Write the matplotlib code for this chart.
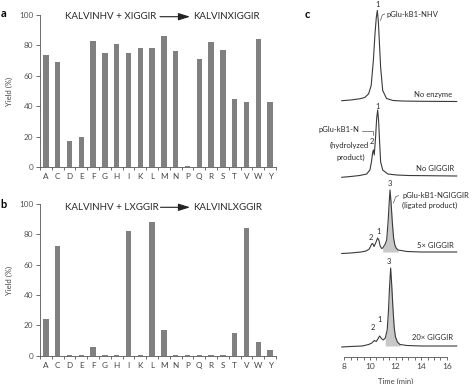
import matplotlib
matplotlib.use('Agg')
import matplotlib.pyplot as plt
from matplotlib.patches import ArrowStyle
import numpy as np

plt.rcParams['font.family'] = ['Lato', 'DejaVu Sans']

# ---------------- data ----------------
categories = ['A', 'C', 'D', 'E', 'F', 'G', 'H', 'I', 'K', 'L',
              'M', 'N', 'P', 'Q', 'R', 'S', 'T', 'V', 'W', 'Y']
yield_a = [74, 69, 17, 20, 83, 75, 81, 75, 78, 78,
           86, 76, 0.7, 71, 82, 77, 45, 43, 84, 43]
yield_b = [24, 72, 0.7, 0.7, 6, 0.7, 0.7, 82, 0.7, 88,
           17, 0.7, 0.7, 0.7, 0.7, 0.7, 15, 84, 9, 4]
yield_ticks = [0, 20, 40, 60, 80, 100]

time_ticks = [8, 10, 12, 14, 16]
trace_names = ['No enzyme', 'No GIGGIR', '5\u00d7 GIGGIR', '20\u00d7 GIGGIR']

# chromatogram traces: time (min) and signal above baseline (a.u.)
t_no_enzyme = [7.8, 8.5, 9.2, 9.6, 9.9, 10.1, 10.27, 10.4, 10.5, 10.58,
               10.66, 10.73, 10.84, 11.0, 11.3, 11.8, 12.5, 14.0, 16.78]
s_no_enzyme = [0.8, 1.5, 2.7, 4, 7.7, 16, 41, 68, 84, 91,
               80, 62, 34, 11, 3, 1, 0.5, 0.2, 0]

t_no_giggir = [7.8, 8.5, 9.2, 9.75, 10.0, 10.12, 10.22, 10.28, 10.34, 10.45,
               10.53, 10.61, 10.68, 10.75, 10.84, 11.0, 11.4, 12.1, 13.0, 16.78]
s_no_giggir = [-1.3, -0.5, 0.5, 2, 6, 14, 24, 26, 21, 40,
               58, 66, 55, 36, 14, 6, 2, 1, 0.5, 0]

t_5x = [7.8, 8.5, 9.3, 9.7, 9.95, 10.14, 10.22, 10.32, 10.45, 10.6,
        10.7, 10.8, 10.92, 11.0, 11.2, 11.31, 11.42, 11.5, 11.57, 11.65,
        11.75, 11.85, 11.95, 12.05, 12.2, 12.9, 14.0, 16.78]
s_5x = [-1.5, -1, 0, 1, 3, 8, 8.5, 5.5, 9, 14,
        12, 6, 3.5, 4, 8, 12, 30, 48, 62, 50,
        30, 14, 7, 4, 2, 0.5, 0, 0]

t_20x = [7.8, 8.5, 9.4, 9.9, 10.15, 10.35, 10.5, 10.62, 10.76, 10.9,
         11.05, 11.2, 11.35, 11.45, 11.53, 11.62, 11.7, 11.8, 11.9, 12.0,
         12.15, 12.35, 12.9, 14.0, 16.78]
s_20x = [-1, -0.5, 0, 1.5, 3, 5.5, 4.5, 7, 10, 7.5,
         6, 8, 16, 35, 58, 78, 62, 38, 18, 9,
         4, 1.5, 0.5, 0, 0]

shade_5x = (11.0, 12.2)
shade_20x = (11.2, 12.35)

# ---------------- layout ----------------
W, H = 474, 384
fig = plt.figure(figsize=(W / 100, H / 100), dpi=100)
renderer = fig.canvas.get_renderer()

def rect(x0, y0, x1, y1):
    return [x0 / W, 1 - y1 / H, (x1 - x0) / W, (y1 - y0) / H]

BAR = '#808080'
SPINE = '#555555'
TICKC = '#555555'
TXT = '#2a2a2a'
LINE = '#3a3a3a'
FILL = '#c8c8c8'


def bar_panel(r, values):
    ax = fig.add_axes(r)
    x = np.arange(len(categories))
    ax.bar(x, values, width=0.47, color=BAR, zorder=2)
    ax.set_xlim(-0.5, len(categories) - 0.5)
    ax.set_ylim(0, 100)
    ax.set_yticks(yield_ticks)
    ax.set_xticks(x)
    ax.set_xticklabels(categories)
    ax.set_xticks(np.arange(-0.5, len(categories)), minor=True)
    ax.tick_params(axis='x', which='major', length=0, pad=4.5,
                   labelsize=5.9, labelcolor='#444444')
    ax.tick_params(axis='x', which='minor', length=2.5, width=0.6,
                   color=SPINE, direction='out')
    ax.tick_params(axis='y', length=2.8, width=0.6, color=SPINE, pad=2,
                   labelsize=5.9, labelcolor=TICKC)
    for s in ['top', 'right']:
        ax.spines[s].set_visible(False)
    for s in ['left', 'bottom']:
        ax.spines[s].set_color(SPINE)
        ax.spines[s].set_linewidth(0.6)
    ax.patch.set_alpha(0)
    return ax

ax_a = bar_panel(rect(40, 15, 276, 167), yield_a)
ax_b = bar_panel(rect(40, 204, 276, 355.7), yield_b)

# ---------------- chromatograms ----------------
PX_PER_MIN = 12.8
X8 = 344.3

def px2t(px):
    return 8 + (px - X8) / PX_PER_MIN

ax_c = fig.add_axes(rect(300, 0, 474, 356.7))
ax_c.set_xlim(px2t(300), px2t(474))
ax_c.set_ylim(356.7, 0)
ax_c.patch.set_alpha(0)
for s in ['top', 'right', 'left']:
    ax_c.spines[s].set_visible(False)
ax_c.spines['bottom'].set_bounds(8, 16)
ax_c.spines['bottom'].set_color(SPINE)
ax_c.spines['bottom'].set_linewidth(0.6)
ax_c.set_yticks([])
ax_c.set_xticks(time_ticks)
ax_c.set_xticks(np.arange(8, 16.01, 0.5), minor=True)
ax_c.tick_params(axis='x', which='both', length=2.5, width=0.6, color=SPINE,
                 direction='out', pad=2.2, labelsize=6.0, labelcolor='#444444')

baselines = [101.5, 176, 252, 346]
traces = [(t_no_enzyme, s_no_enzyme, None),
          (t_no_giggir, s_no_giggir, None),
          (t_5x, s_5x, shade_5x),
          (t_20x, s_20x, shade_20x)]
for base, (t, s, shade) in zip(baselines, traces):
    t = np.array(t)
    y = base - np.array(s)
    if shade is not None:
        m = (t >= shade[0] - 1e-9) & (t <= shade[1] + 1e-9)
        ax_c.fill_between(t[m], y[m], base, color=FILL, lw=0, zorder=1)
    ax_c.plot(t, y, color=LINE, lw=0.8, zorder=2, solid_joinstyle='round')

# ---------------- overlay for text ----------------
ov = fig.add_axes([0, 0, 1, 1])
ov.set_xlim(0, W)
ov.set_ylim(H, 0)
ov.axis('off')
ov.patch.set_alpha(0)

BASE = 6.0

class Group:
    """texts sharing one font size, fitted to reference widths (median)"""
    def __init__(self):
        self.items = []
        self.ratios = []

    def add(self, x, y, s, ha='left', va='center', color=TXT, width=None, **kw):
        t = ov.text(x, y, s, fontsize=BASE, ha=ha, va=va, color=color, **kw)
        self.items.append(t)
        if width is not None:
            w = t.get_window_extent(renderer=renderer).width
            if w > 0:
                self.ratios.append(width / w)
        return t

    def finish(self):
        r = float(np.median(self.ratios)) if self.ratios else 1.0
        for t in self.items:
            t.set_fontsize(BASE * r)

# panel labels
for x, y, s in [(0.5, 13.5, 'a'), (0.5, 205, 'b'), (305, 14, 'c')]:
    ov.text(x, y, s, fontsize=8, weight='bold', color='black', ha='left', va='center')

# reaction schemes
g_title = Group()
arrow = ArrowStyle('-|>', head_length=0.7, head_width=0.22)
for y, left, right, x_arrow, wl in [(16.7, 'KALVINHV + XIGGIR', 'KALVINXIGGIR', 160, 92),
                                    (207.3, 'KALVINHV + LXGGIR', 'KALVINLXGGIR', 160.5, 94)]:
    g_title.add(65, y, left, width=wl)
    ov.annotate('', xy=(190, y), xytext=(x_arrow, y),
                arrowprops=dict(arrowstyle=arrow, color='#222222', lw=0.8,
                                mutation_scale=10, shrinkA=0, shrinkB=0))
    g_title.add(193, y, right, width=67)
g_title.finish()

# chromatogram annotations + axis labels
g = Group()
LEAD = '#555555'
g.add(9.5, 91, 'Yield (%)', ha='center', color='#444444', rotation=90)
g.add(9.5, 280, 'Yield (%)', ha='center', color='#444444', rotation=90)

g.add(377.5, 4.5, '1', ha='center')
ov.plot([380.5, 382.3, 384.8], [20.5, 15, 14], color=LEAD, lw=0.5)
g.add(387, 15, 'pGlu-kB1-NHV', width=52)
g.add(452.5, 95, trace_names[0], ha='right', width=41)

g.add(377.7, 106.5, '1', ha='center')
g.add(372, 142, '2', ha='center')
ov.plot([362, 373, 373], [130.5, 130.5, 135], color=LEAD, lw=0.5)
g.add(359.5, 129.5, 'pGlu-kB1-N', ha='right', width=35)
g.add(349, 145, '(hydrolyzed', ha='center', width=35)
g.add(350.5, 157, 'product)', ha='center', width=27)
g.add(454, 168.5, trace_names[1], ha='right', width=41)

g.add(389.5, 183, '3', ha='center')
ov.plot([393.5, 395.6, 398.5], [203, 197, 195.5], color=LEAD, lw=0.5)
g.add(402.5, 195.5, 'pGlu-kB1-NGIGGIR', width=69)
g.add(402.5, 205, '(ligated product)', width=68)
g.add(370.7, 238, '2', ha='center')
g.add(378.3, 231.5, '1', ha='center')
g.add(453.3, 245, trace_names[2], ha='right', width=33)

g.add(389, 261, '3', ha='center')
g.add(372.5, 327, '2', ha='center')
g.add(379.5, 319, '1', ha='center')
g.add(453.3, 337.5, trace_names[3], ha='right', width=38)

g.add(395.5, 381, 'Time (min)', ha='center', color='#444444', width=41)
g.finish()

fig.savefig('out.png', dpi=100)
